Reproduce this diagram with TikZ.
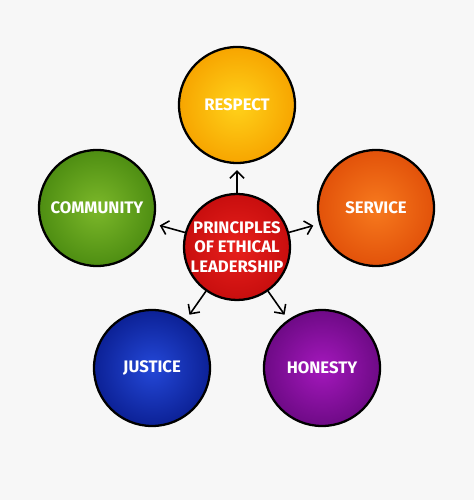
\documentclass[tikz,border=0pt]{standalone}
\usepackage{fontspec}
\setsansfont{Fira Sans}
\usepackage{xcolor}
\usetikzlibrary{arrows.meta,calc,positioning}

\definecolor{respectIn}{HTML}{FFD21A}
\definecolor{respectOut}{HTML}{F7A500}
\definecolor{communityIn}{HTML}{7CB82A}
\definecolor{communityOut}{HTML}{4E8E12}
\definecolor{serviceIn}{HTML}{F77A1E}
\definecolor{serviceOut}{HTML}{E2520A}
\definecolor{justiceIn}{HTML}{2448D8}
\definecolor{justiceOut}{HTML}{0C2196}
\definecolor{honestyIn}{HTML}{A418BC}
\definecolor{honestyOut}{HTML}{6E0A86}
\definecolor{leadIn}{HTML}{E8201C}
\definecolor{leadOut}{HTML}{C80E0E}

\begin{document}
\begin{tikzpicture}[
		bubble/.style={circle, draw=black, line width=1.3pt, minimum size=2.32cm,
			inner sep=0pt, text=white, align=center,
			font=\sffamily\bfseries\fontsize{9.5}{11}\selectfont},
		link/.style={line width=0.9pt, -{Straight Barb[length=4pt,width=8pt]}, shorten >=0.12cm}
	]
		\useasboundingbox (0,0) rectangle (9.48,10);
		\fill[black!3] (0,0) rectangle (9.48,10);
		% hub
		\node[bubble, minimum size=2.12cm, inner color=leadIn, outer color=leadOut] (lead) at (4.74,5.06) {PRINCIPLES\\OF ETHICAL\\LEADERSHIP};
		% values around it
		\node[bubble, inner color=respectIn, outer color=respectOut] (respect) at (4.74,7.90) {RESPECT};
		\node[bubble, inner color=communityIn, outer color=communityOut] (community) at (1.94,5.84) {COMMUNITY};
		\node[bubble, inner color=serviceIn, outer color=serviceOut] (service) at (7.52,5.84) {SERVICE};
		\node[bubble, inner color=justiceIn, outer color=justiceOut] (justice) at (3.04,2.64) {JUSTICE};
		\node[bubble, inner color=honestyIn, outer color=honestyOut] (honesty) at (6.44,2.64) {HONESTY};
		% arrows
		\foreach \v in {respect,community,service,justice,honesty}
			\draw[link] (lead) -- (\v);
		\end{tikzpicture}
\end{document}
